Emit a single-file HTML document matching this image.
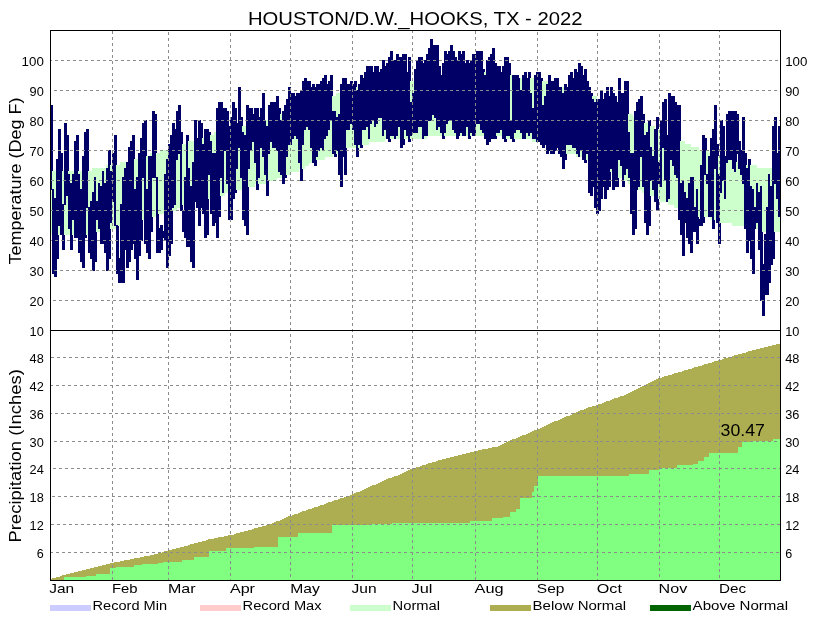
<!DOCTYPE html>
<html><head><meta charset="utf-8"><title>HOUSTON/D.W._HOOKS, TX - 2022</title>
<style>html,body{margin:0;padding:0;background:#fff;}svg{display:block;will-change:transform;}text{font-family:"Liberation Sans", sans-serif;fill:#000;}</style>
</head><body>
<svg width="830" height="620" viewBox="0 0 830 620">
<rect x="0" y="0" width="830" height="620" fill="#fff"/>
<g shape-rendering="crispEdges">
<rect x="50" y="171" width="3" height="64" fill="#ccffcc"/>
<rect x="50" y="105" width="3" height="85" fill="#000066"/>
<rect x="52" y="171" width="3" height="64" fill="#ccffcc"/>
<rect x="52" y="189" width="3" height="85" fill="#000066"/>
<rect x="54" y="171" width="3" height="64" fill="#ccffcc"/>
<rect x="54" y="198" width="3" height="79" fill="#000066"/>
<rect x="56" y="171" width="3" height="64" fill="#ccffcc"/>
<rect x="56" y="159" width="3" height="100" fill="#000066"/>
<rect x="58" y="171" width="3" height="64" fill="#ccffcc"/>
<rect x="58" y="129" width="3" height="97" fill="#000066"/>
<rect x="60" y="171" width="3" height="64" fill="#ccffcc"/>
<rect x="60" y="153" width="3" height="82" fill="#000066"/>
<rect x="62" y="171" width="3" height="64" fill="#ccffcc"/>
<rect x="62" y="204" width="3" height="46" fill="#000066"/>
<rect x="64" y="171" width="3" height="64" fill="#ccffcc"/>
<rect x="64" y="123" width="3" height="82" fill="#000066"/>
<rect x="66" y="171" width="3" height="64" fill="#ccffcc"/>
<rect x="66" y="135" width="3" height="61" fill="#000066"/>
<rect x="68" y="171" width="3" height="64" fill="#ccffcc"/>
<rect x="68" y="174" width="3" height="55" fill="#000066"/>
<rect x="70" y="171" width="3" height="64" fill="#ccffcc"/>
<rect x="70" y="183" width="3" height="67" fill="#000066"/>
<rect x="72" y="171" width="3" height="64" fill="#ccffcc"/>
<rect x="72" y="174" width="3" height="46" fill="#000066"/>
<rect x="74" y="171" width="3" height="64" fill="#ccffcc"/>
<rect x="74" y="141" width="3" height="97" fill="#000066"/>
<rect x="76" y="171" width="3" height="64" fill="#ccffcc"/>
<rect x="76" y="135" width="3" height="103" fill="#000066"/>
<rect x="78" y="171" width="3" height="64" fill="#ccffcc"/>
<rect x="78" y="174" width="3" height="79" fill="#000066"/>
<rect x="80" y="171" width="3" height="64" fill="#ccffcc"/>
<rect x="80" y="189" width="3" height="73" fill="#000066"/>
<rect x="82" y="171" width="3" height="64" fill="#ccffcc"/>
<rect x="82" y="156" width="3" height="112" fill="#000066"/>
<rect x="84" y="171" width="3" height="64" fill="#ccffcc"/>
<rect x="84" y="132" width="3" height="106" fill="#000066"/>
<rect x="86" y="171" width="3" height="64" fill="#ccffcc"/>
<rect x="86" y="129" width="3" height="79" fill="#000066"/>
<rect x="88" y="171" width="3" height="64" fill="#ccffcc"/>
<rect x="88" y="207" width="3" height="46" fill="#000066"/>
<rect x="90" y="171" width="3" height="64" fill="#ccffcc"/>
<rect x="90" y="201" width="3" height="58" fill="#000066"/>
<rect x="92" y="168" width="3" height="67" fill="#ccffcc"/>
<rect x="92" y="192" width="3" height="79" fill="#000066"/>
<rect x="94" y="168" width="3" height="67" fill="#ccffcc"/>
<rect x="94" y="177" width="3" height="85" fill="#000066"/>
<rect x="96" y="168" width="3" height="64" fill="#ccffcc"/>
<rect x="96" y="201" width="3" height="19" fill="#000066"/>
<rect x="98" y="168" width="3" height="64" fill="#ccffcc"/>
<rect x="98" y="183" width="3" height="46" fill="#000066"/>
<rect x="100" y="168" width="3" height="64" fill="#ccffcc"/>
<rect x="100" y="186" width="3" height="58" fill="#000066"/>
<rect x="102" y="168" width="3" height="64" fill="#ccffcc"/>
<rect x="102" y="171" width="3" height="73" fill="#000066"/>
<rect x="104" y="168" width="3" height="64" fill="#ccffcc"/>
<rect x="104" y="183" width="3" height="70" fill="#000066"/>
<rect x="106" y="165" width="3" height="64" fill="#ccffcc"/>
<rect x="106" y="168" width="3" height="103" fill="#000066"/>
<rect x="108" y="165" width="3" height="64" fill="#ccffcc"/>
<rect x="108" y="150" width="3" height="109" fill="#000066"/>
<rect x="110" y="165" width="3" height="64" fill="#ccffcc"/>
<rect x="110" y="171" width="3" height="52" fill="#000066"/>
<rect x="112" y="165" width="3" height="64" fill="#ccffcc"/>
<rect x="112" y="153" width="3" height="49" fill="#000066"/>
<rect x="114" y="165" width="3" height="64" fill="#ccffcc"/>
<rect x="114" y="135" width="3" height="91" fill="#000066"/>
<rect x="116" y="165" width="3" height="64" fill="#ccffcc"/>
<rect x="116" y="225" width="3" height="49" fill="#000066"/>
<rect x="118" y="165" width="3" height="61" fill="#ccffcc"/>
<rect x="118" y="258" width="3" height="25" fill="#000066"/>
<rect x="120" y="162" width="3" height="64" fill="#ccffcc"/>
<rect x="120" y="204" width="3" height="79" fill="#000066"/>
<rect x="122" y="162" width="3" height="64" fill="#ccffcc"/>
<rect x="122" y="177" width="3" height="106" fill="#000066"/>
<rect x="124" y="162" width="3" height="64" fill="#ccffcc"/>
<rect x="124" y="168" width="3" height="82" fill="#000066"/>
<rect x="126" y="162" width="3" height="64" fill="#ccffcc"/>
<rect x="126" y="162" width="3" height="106" fill="#000066"/>
<rect x="128" y="162" width="3" height="64" fill="#ccffcc"/>
<rect x="128" y="147" width="3" height="115" fill="#000066"/>
<rect x="130" y="162" width="3" height="64" fill="#ccffcc"/>
<rect x="130" y="141" width="3" height="109" fill="#000066"/>
<rect x="132" y="162" width="3" height="64" fill="#ccffcc"/>
<rect x="132" y="135" width="3" height="109" fill="#000066"/>
<rect x="134" y="159" width="3" height="64" fill="#ccffcc"/>
<rect x="134" y="189" width="3" height="70" fill="#000066"/>
<rect x="136" y="159" width="3" height="64" fill="#ccffcc"/>
<rect x="136" y="177" width="3" height="103" fill="#000066"/>
<rect x="138" y="159" width="3" height="64" fill="#ccffcc"/>
<rect x="138" y="153" width="3" height="103" fill="#000066"/>
<rect x="140" y="159" width="3" height="61" fill="#ccffcc"/>
<rect x="140" y="138" width="3" height="103" fill="#000066"/>
<rect x="142" y="156" width="3" height="64" fill="#ccffcc"/>
<rect x="142" y="123" width="3" height="55" fill="#000066"/>
<rect x="144" y="156" width="3" height="64" fill="#ccffcc"/>
<rect x="144" y="120" width="3" height="124" fill="#000066"/>
<rect x="146" y="156" width="3" height="64" fill="#ccffcc"/>
<rect x="146" y="189" width="3" height="64" fill="#000066"/>
<rect x="148" y="156" width="3" height="61" fill="#ccffcc"/>
<rect x="148" y="156" width="3" height="103" fill="#000066"/>
<rect x="150" y="153" width="3" height="64" fill="#ccffcc"/>
<rect x="150" y="156" width="3" height="76" fill="#000066"/>
<rect x="152" y="153" width="3" height="64" fill="#ccffcc"/>
<rect x="152" y="111" width="3" height="67" fill="#000066"/>
<rect x="154" y="153" width="3" height="64" fill="#ccffcc"/>
<rect x="154" y="114" width="3" height="64" fill="#000066"/>
<rect x="156" y="153" width="3" height="64" fill="#ccffcc"/>
<rect x="156" y="177" width="3" height="76" fill="#000066"/>
<rect x="158" y="153" width="3" height="61" fill="#ccffcc"/>
<rect x="158" y="228" width="3" height="25" fill="#000066"/>
<rect x="160" y="150" width="3" height="64" fill="#ccffcc"/>
<rect x="160" y="225" width="3" height="25" fill="#000066"/>
<rect x="162" y="150" width="3" height="64" fill="#ccffcc"/>
<rect x="162" y="231" width="3" height="7" fill="#000066"/>
<rect x="164" y="150" width="3" height="64" fill="#ccffcc"/>
<rect x="164" y="174" width="3" height="67" fill="#000066"/>
<rect x="166" y="150" width="3" height="61" fill="#ccffcc"/>
<rect x="166" y="159" width="3" height="109" fill="#000066"/>
<rect x="168" y="150" width="3" height="61" fill="#ccffcc"/>
<rect x="168" y="144" width="3" height="112" fill="#000066"/>
<rect x="170" y="150" width="3" height="61" fill="#ccffcc"/>
<rect x="170" y="135" width="3" height="109" fill="#000066"/>
<rect x="172" y="150" width="3" height="61" fill="#ccffcc"/>
<rect x="172" y="123" width="3" height="85" fill="#000066"/>
<rect x="174" y="150" width="3" height="61" fill="#ccffcc"/>
<rect x="174" y="129" width="3" height="76" fill="#000066"/>
<rect x="176" y="147" width="3" height="61" fill="#ccffcc"/>
<rect x="176" y="111" width="3" height="49" fill="#000066"/>
<rect x="178" y="147" width="3" height="61" fill="#ccffcc"/>
<rect x="178" y="105" width="3" height="49" fill="#000066"/>
<rect x="180" y="147" width="3" height="61" fill="#ccffcc"/>
<rect x="180" y="132" width="3" height="79" fill="#000066"/>
<rect x="182" y="144" width="3" height="61" fill="#ccffcc"/>
<rect x="182" y="210" width="3" height="22" fill="#000066"/>
<rect x="184" y="144" width="3" height="61" fill="#ccffcc"/>
<rect x="184" y="177" width="3" height="61" fill="#000066"/>
<rect x="186" y="144" width="3" height="61" fill="#ccffcc"/>
<rect x="186" y="135" width="3" height="112" fill="#000066"/>
<rect x="188" y="141" width="3" height="64" fill="#ccffcc"/>
<rect x="188" y="168" width="3" height="79" fill="#000066"/>
<rect x="190" y="141" width="3" height="64" fill="#ccffcc"/>
<rect x="190" y="186" width="3" height="76" fill="#000066"/>
<rect x="192" y="141" width="3" height="61" fill="#ccffcc"/>
<rect x="192" y="162" width="3" height="106" fill="#000066"/>
<rect x="194" y="141" width="3" height="61" fill="#ccffcc"/>
<rect x="194" y="120" width="3" height="82" fill="#000066"/>
<rect x="196" y="138" width="3" height="64" fill="#ccffcc"/>
<rect x="196" y="138" width="3" height="70" fill="#000066"/>
<rect x="198" y="138" width="3" height="64" fill="#ccffcc"/>
<rect x="198" y="120" width="3" height="106" fill="#000066"/>
<rect x="200" y="138" width="3" height="64" fill="#ccffcc"/>
<rect x="200" y="123" width="3" height="85" fill="#000066"/>
<rect x="202" y="138" width="3" height="61" fill="#ccffcc"/>
<rect x="202" y="144" width="3" height="70" fill="#000066"/>
<rect x="204" y="138" width="3" height="61" fill="#ccffcc"/>
<rect x="204" y="129" width="3" height="109" fill="#000066"/>
<rect x="206" y="138" width="3" height="61" fill="#ccffcc"/>
<rect x="206" y="129" width="3" height="106" fill="#000066"/>
<rect x="208" y="135" width="3" height="64" fill="#ccffcc"/>
<rect x="208" y="132" width="3" height="43" fill="#000066"/>
<rect x="210" y="135" width="3" height="64" fill="#ccffcc"/>
<rect x="210" y="141" width="3" height="73" fill="#000066"/>
<rect x="212" y="135" width="3" height="64" fill="#ccffcc"/>
<rect x="212" y="153" width="3" height="73" fill="#000066"/>
<rect x="214" y="132" width="3" height="67" fill="#ccffcc"/>
<rect x="214" y="153" width="3" height="70" fill="#000066"/>
<rect x="216" y="132" width="3" height="64" fill="#ccffcc"/>
<rect x="216" y="108" width="3" height="130" fill="#000066"/>
<rect x="218" y="132" width="3" height="64" fill="#ccffcc"/>
<rect x="218" y="102" width="3" height="115" fill="#000066"/>
<rect x="220" y="132" width="3" height="64" fill="#ccffcc"/>
<rect x="220" y="102" width="3" height="76" fill="#000066"/>
<rect x="222" y="129" width="3" height="67" fill="#ccffcc"/>
<rect x="222" y="108" width="3" height="85" fill="#000066"/>
<rect x="224" y="129" width="3" height="64" fill="#ccffcc"/>
<rect x="224" y="108" width="3" height="43" fill="#000066"/>
<rect x="226" y="129" width="3" height="64" fill="#ccffcc"/>
<rect x="226" y="111" width="3" height="73" fill="#000066"/>
<rect x="228" y="129" width="3" height="64" fill="#ccffcc"/>
<rect x="228" y="126" width="3" height="94" fill="#000066"/>
<rect x="230" y="129" width="3" height="64" fill="#ccffcc"/>
<rect x="230" y="117" width="3" height="103" fill="#000066"/>
<rect x="232" y="129" width="3" height="64" fill="#ccffcc"/>
<rect x="232" y="102" width="3" height="97" fill="#000066"/>
<rect x="234" y="129" width="3" height="61" fill="#ccffcc"/>
<rect x="234" y="108" width="3" height="85" fill="#000066"/>
<rect x="236" y="126" width="3" height="64" fill="#ccffcc"/>
<rect x="236" y="123" width="3" height="46" fill="#000066"/>
<rect x="238" y="126" width="3" height="64" fill="#ccffcc"/>
<rect x="238" y="87" width="3" height="61" fill="#000066"/>
<rect x="240" y="126" width="3" height="64" fill="#ccffcc"/>
<rect x="240" y="117" width="3" height="61" fill="#000066"/>
<rect x="242" y="126" width="3" height="61" fill="#ccffcc"/>
<rect x="242" y="132" width="3" height="88" fill="#000066"/>
<rect x="244" y="126" width="3" height="61" fill="#ccffcc"/>
<rect x="244" y="135" width="3" height="91" fill="#000066"/>
<rect x="246" y="126" width="3" height="61" fill="#ccffcc"/>
<rect x="246" y="105" width="3" height="130" fill="#000066"/>
<rect x="248" y="123" width="3" height="64" fill="#ccffcc"/>
<rect x="248" y="108" width="3" height="61" fill="#000066"/>
<rect x="250" y="123" width="3" height="64" fill="#ccffcc"/>
<rect x="250" y="108" width="3" height="43" fill="#000066"/>
<rect x="252" y="123" width="3" height="64" fill="#ccffcc"/>
<rect x="252" y="114" width="3" height="28" fill="#000066"/>
<rect x="254" y="123" width="3" height="61" fill="#ccffcc"/>
<rect x="254" y="108" width="3" height="55" fill="#000066"/>
<rect x="256" y="123" width="3" height="61" fill="#ccffcc"/>
<rect x="256" y="108" width="3" height="82" fill="#000066"/>
<rect x="258" y="123" width="3" height="61" fill="#ccffcc"/>
<rect x="258" y="117" width="3" height="61" fill="#000066"/>
<rect x="260" y="120" width="3" height="64" fill="#ccffcc"/>
<rect x="260" y="108" width="3" height="40" fill="#000066"/>
<rect x="262" y="120" width="3" height="64" fill="#ccffcc"/>
<rect x="262" y="93" width="3" height="64" fill="#000066"/>
<rect x="264" y="120" width="3" height="64" fill="#ccffcc"/>
<rect x="264" y="120" width="3" height="55" fill="#000066"/>
<rect x="266" y="120" width="3" height="61" fill="#ccffcc"/>
<rect x="266" y="126" width="3" height="70" fill="#000066"/>
<rect x="268" y="120" width="3" height="61" fill="#ccffcc"/>
<rect x="268" y="105" width="3" height="49" fill="#000066"/>
<rect x="270" y="117" width="3" height="64" fill="#ccffcc"/>
<rect x="270" y="102" width="3" height="40" fill="#000066"/>
<rect x="272" y="117" width="3" height="64" fill="#ccffcc"/>
<rect x="272" y="102" width="3" height="46" fill="#000066"/>
<rect x="274" y="117" width="3" height="64" fill="#ccffcc"/>
<rect x="274" y="102" width="3" height="46" fill="#000066"/>
<rect x="276" y="114" width="3" height="64" fill="#ccffcc"/>
<rect x="276" y="96" width="3" height="55" fill="#000066"/>
<rect x="278" y="114" width="3" height="64" fill="#ccffcc"/>
<rect x="278" y="108" width="3" height="64" fill="#000066"/>
<rect x="280" y="114" width="3" height="64" fill="#ccffcc"/>
<rect x="280" y="120" width="3" height="55" fill="#000066"/>
<rect x="282" y="114" width="3" height="61" fill="#ccffcc"/>
<rect x="282" y="111" width="3" height="73" fill="#000066"/>
<rect x="284" y="114" width="3" height="61" fill="#ccffcc"/>
<rect x="284" y="105" width="3" height="73" fill="#000066"/>
<rect x="286" y="111" width="3" height="64" fill="#ccffcc"/>
<rect x="286" y="99" width="3" height="58" fill="#000066"/>
<rect x="288" y="111" width="3" height="64" fill="#ccffcc"/>
<rect x="288" y="87" width="3" height="58" fill="#000066"/>
<rect x="290" y="111" width="3" height="61" fill="#ccffcc"/>
<rect x="290" y="93" width="3" height="52" fill="#000066"/>
<rect x="292" y="111" width="3" height="61" fill="#ccffcc"/>
<rect x="292" y="93" width="3" height="46" fill="#000066"/>
<rect x="294" y="108" width="3" height="64" fill="#ccffcc"/>
<rect x="294" y="96" width="3" height="40" fill="#000066"/>
<rect x="296" y="108" width="3" height="64" fill="#ccffcc"/>
<rect x="296" y="93" width="3" height="46" fill="#000066"/>
<rect x="298" y="108" width="3" height="61" fill="#ccffcc"/>
<rect x="298" y="93" width="3" height="70" fill="#000066"/>
<rect x="300" y="108" width="3" height="61" fill="#ccffcc"/>
<rect x="300" y="90" width="3" height="91" fill="#000066"/>
<rect x="302" y="105" width="3" height="64" fill="#ccffcc"/>
<rect x="302" y="81" width="3" height="64" fill="#000066"/>
<rect x="304" y="105" width="3" height="61" fill="#ccffcc"/>
<rect x="304" y="78" width="3" height="52" fill="#000066"/>
<rect x="306" y="105" width="3" height="61" fill="#ccffcc"/>
<rect x="306" y="81" width="3" height="46" fill="#000066"/>
<rect x="308" y="105" width="3" height="58" fill="#ccffcc"/>
<rect x="308" y="81" width="3" height="49" fill="#000066"/>
<rect x="310" y="105" width="3" height="58" fill="#ccffcc"/>
<rect x="310" y="87" width="3" height="61" fill="#000066"/>
<rect x="312" y="102" width="3" height="61" fill="#ccffcc"/>
<rect x="312" y="84" width="3" height="79" fill="#000066"/>
<rect x="314" y="102" width="3" height="61" fill="#ccffcc"/>
<rect x="314" y="87" width="3" height="79" fill="#000066"/>
<rect x="316" y="102" width="3" height="58" fill="#ccffcc"/>
<rect x="316" y="84" width="3" height="73" fill="#000066"/>
<rect x="318" y="102" width="3" height="58" fill="#ccffcc"/>
<rect x="318" y="84" width="3" height="67" fill="#000066"/>
<rect x="320" y="99" width="3" height="61" fill="#ccffcc"/>
<rect x="320" y="81" width="3" height="67" fill="#000066"/>
<rect x="322" y="99" width="3" height="61" fill="#ccffcc"/>
<rect x="322" y="78" width="3" height="73" fill="#000066"/>
<rect x="324" y="99" width="3" height="58" fill="#ccffcc"/>
<rect x="324" y="75" width="3" height="64" fill="#000066"/>
<rect x="326" y="99" width="3" height="58" fill="#ccffcc"/>
<rect x="326" y="84" width="3" height="52" fill="#000066"/>
<rect x="328" y="96" width="3" height="61" fill="#ccffcc"/>
<rect x="328" y="81" width="3" height="49" fill="#000066"/>
<rect x="330" y="96" width="3" height="61" fill="#ccffcc"/>
<rect x="330" y="75" width="3" height="46" fill="#000066"/>
<rect x="332" y="96" width="3" height="58" fill="#ccffcc"/>
<rect x="332" y="111" width="3" height="43" fill="#000066"/>
<rect x="334" y="96" width="3" height="58" fill="#ccffcc"/>
<rect x="334" y="111" width="3" height="46" fill="#000066"/>
<rect x="336" y="93" width="3" height="61" fill="#ccffcc"/>
<rect x="336" y="117" width="3" height="34" fill="#000066"/>
<rect x="338" y="93" width="3" height="61" fill="#ccffcc"/>
<rect x="338" y="114" width="3" height="61" fill="#000066"/>
<rect x="340" y="93" width="3" height="58" fill="#ccffcc"/>
<rect x="340" y="84" width="3" height="103" fill="#000066"/>
<rect x="342" y="90" width="3" height="61" fill="#ccffcc"/>
<rect x="342" y="78" width="3" height="79" fill="#000066"/>
<rect x="344" y="90" width="3" height="61" fill="#ccffcc"/>
<rect x="344" y="78" width="3" height="97" fill="#000066"/>
<rect x="346" y="90" width="3" height="58" fill="#ccffcc"/>
<rect x="346" y="84" width="3" height="46" fill="#000066"/>
<rect x="348" y="90" width="3" height="58" fill="#ccffcc"/>
<rect x="348" y="84" width="3" height="46" fill="#000066"/>
<rect x="350" y="90" width="3" height="58" fill="#ccffcc"/>
<rect x="350" y="81" width="3" height="43" fill="#000066"/>
<rect x="352" y="87" width="3" height="61" fill="#ccffcc"/>
<rect x="352" y="84" width="3" height="46" fill="#000066"/>
<rect x="354" y="87" width="3" height="61" fill="#ccffcc"/>
<rect x="354" y="81" width="3" height="64" fill="#000066"/>
<rect x="356" y="87" width="3" height="61" fill="#ccffcc"/>
<rect x="356" y="90" width="3" height="67" fill="#000066"/>
<rect x="358" y="87" width="3" height="61" fill="#ccffcc"/>
<rect x="358" y="84" width="3" height="61" fill="#000066"/>
<rect x="360" y="87" width="3" height="61" fill="#ccffcc"/>
<rect x="360" y="75" width="3" height="73" fill="#000066"/>
<rect x="362" y="87" width="3" height="58" fill="#ccffcc"/>
<rect x="362" y="78" width="3" height="52" fill="#000066"/>
<rect x="364" y="87" width="3" height="58" fill="#ccffcc"/>
<rect x="364" y="72" width="3" height="58" fill="#000066"/>
<rect x="366" y="87" width="3" height="58" fill="#ccffcc"/>
<rect x="366" y="66" width="3" height="61" fill="#000066"/>
<rect x="368" y="84" width="3" height="58" fill="#ccffcc"/>
<rect x="368" y="66" width="3" height="73" fill="#000066"/>
<rect x="370" y="84" width="3" height="58" fill="#ccffcc"/>
<rect x="370" y="66" width="3" height="58" fill="#000066"/>
<rect x="372" y="84" width="3" height="58" fill="#ccffcc"/>
<rect x="372" y="72" width="3" height="49" fill="#000066"/>
<rect x="374" y="84" width="3" height="58" fill="#ccffcc"/>
<rect x="374" y="66" width="3" height="61" fill="#000066"/>
<rect x="376" y="84" width="3" height="58" fill="#ccffcc"/>
<rect x="376" y="66" width="3" height="58" fill="#000066"/>
<rect x="378" y="84" width="3" height="58" fill="#ccffcc"/>
<rect x="378" y="72" width="3" height="46" fill="#000066"/>
<rect x="380" y="84" width="3" height="58" fill="#ccffcc"/>
<rect x="380" y="69" width="3" height="49" fill="#000066"/>
<rect x="382" y="84" width="3" height="58" fill="#ccffcc"/>
<rect x="382" y="60" width="3" height="76" fill="#000066"/>
<rect x="384" y="84" width="3" height="55" fill="#ccffcc"/>
<rect x="384" y="66" width="3" height="64" fill="#000066"/>
<rect x="386" y="84" width="3" height="55" fill="#ccffcc"/>
<rect x="386" y="63" width="3" height="76" fill="#000066"/>
<rect x="388" y="84" width="3" height="55" fill="#ccffcc"/>
<rect x="388" y="57" width="3" height="85" fill="#000066"/>
<rect x="390" y="84" width="3" height="55" fill="#ccffcc"/>
<rect x="390" y="51" width="3" height="85" fill="#000066"/>
<rect x="392" y="84" width="3" height="55" fill="#ccffcc"/>
<rect x="392" y="60" width="3" height="76" fill="#000066"/>
<rect x="394" y="84" width="3" height="55" fill="#ccffcc"/>
<rect x="394" y="60" width="3" height="79" fill="#000066"/>
<rect x="396" y="81" width="3" height="58" fill="#ccffcc"/>
<rect x="396" y="54" width="3" height="82" fill="#000066"/>
<rect x="398" y="81" width="3" height="58" fill="#ccffcc"/>
<rect x="398" y="57" width="3" height="70" fill="#000066"/>
<rect x="400" y="81" width="3" height="58" fill="#ccffcc"/>
<rect x="400" y="57" width="3" height="91" fill="#000066"/>
<rect x="402" y="81" width="3" height="58" fill="#ccffcc"/>
<rect x="402" y="54" width="3" height="91" fill="#000066"/>
<rect x="404" y="81" width="3" height="58" fill="#ccffcc"/>
<rect x="404" y="54" width="3" height="76" fill="#000066"/>
<rect x="406" y="81" width="3" height="58" fill="#ccffcc"/>
<rect x="406" y="72" width="3" height="64" fill="#000066"/>
<rect x="408" y="81" width="3" height="58" fill="#ccffcc"/>
<rect x="408" y="57" width="3" height="85" fill="#000066"/>
<rect x="410" y="81" width="3" height="58" fill="#ccffcc"/>
<rect x="410" y="102" width="3" height="34" fill="#000066"/>
<rect x="412" y="81" width="3" height="58" fill="#ccffcc"/>
<rect x="412" y="93" width="3" height="40" fill="#000066"/>
<rect x="414" y="81" width="3" height="58" fill="#ccffcc"/>
<rect x="414" y="69" width="3" height="64" fill="#000066"/>
<rect x="416" y="81" width="3" height="58" fill="#ccffcc"/>
<rect x="416" y="60" width="3" height="73" fill="#000066"/>
<rect x="418" y="81" width="3" height="58" fill="#ccffcc"/>
<rect x="418" y="57" width="3" height="70" fill="#000066"/>
<rect x="420" y="81" width="3" height="58" fill="#ccffcc"/>
<rect x="420" y="57" width="3" height="70" fill="#000066"/>
<rect x="422" y="81" width="3" height="58" fill="#ccffcc"/>
<rect x="422" y="63" width="3" height="76" fill="#000066"/>
<rect x="424" y="78" width="3" height="61" fill="#ccffcc"/>
<rect x="424" y="60" width="3" height="76" fill="#000066"/>
<rect x="426" y="78" width="3" height="58" fill="#ccffcc"/>
<rect x="426" y="54" width="3" height="82" fill="#000066"/>
<rect x="428" y="78" width="3" height="58" fill="#ccffcc"/>
<rect x="428" y="48" width="3" height="73" fill="#000066"/>
<rect x="430" y="78" width="3" height="58" fill="#ccffcc"/>
<rect x="430" y="39" width="3" height="82" fill="#000066"/>
<rect x="432" y="78" width="3" height="58" fill="#ccffcc"/>
<rect x="432" y="45" width="3" height="70" fill="#000066"/>
<rect x="434" y="78" width="3" height="58" fill="#ccffcc"/>
<rect x="434" y="45" width="3" height="73" fill="#000066"/>
<rect x="436" y="78" width="3" height="58" fill="#ccffcc"/>
<rect x="436" y="45" width="3" height="85" fill="#000066"/>
<rect x="438" y="78" width="3" height="58" fill="#ccffcc"/>
<rect x="438" y="66" width="3" height="61" fill="#000066"/>
<rect x="440" y="78" width="3" height="58" fill="#ccffcc"/>
<rect x="440" y="75" width="3" height="58" fill="#000066"/>
<rect x="442" y="78" width="3" height="58" fill="#ccffcc"/>
<rect x="442" y="63" width="3" height="76" fill="#000066"/>
<rect x="444" y="78" width="3" height="58" fill="#ccffcc"/>
<rect x="444" y="51" width="3" height="82" fill="#000066"/>
<rect x="446" y="78" width="3" height="58" fill="#ccffcc"/>
<rect x="446" y="54" width="3" height="70" fill="#000066"/>
<rect x="448" y="78" width="3" height="58" fill="#ccffcc"/>
<rect x="448" y="51" width="3" height="70" fill="#000066"/>
<rect x="450" y="78" width="3" height="58" fill="#ccffcc"/>
<rect x="450" y="45" width="3" height="76" fill="#000066"/>
<rect x="452" y="75" width="3" height="61" fill="#ccffcc"/>
<rect x="452" y="51" width="3" height="79" fill="#000066"/>
<rect x="454" y="75" width="3" height="61" fill="#ccffcc"/>
<rect x="454" y="57" width="3" height="76" fill="#000066"/>
<rect x="456" y="75" width="3" height="61" fill="#ccffcc"/>
<rect x="456" y="60" width="3" height="79" fill="#000066"/>
<rect x="458" y="75" width="3" height="61" fill="#ccffcc"/>
<rect x="458" y="51" width="3" height="85" fill="#000066"/>
<rect x="460" y="75" width="3" height="61" fill="#ccffcc"/>
<rect x="460" y="54" width="3" height="79" fill="#000066"/>
<rect x="462" y="75" width="3" height="61" fill="#ccffcc"/>
<rect x="462" y="51" width="3" height="85" fill="#000066"/>
<rect x="464" y="75" width="3" height="61" fill="#ccffcc"/>
<rect x="464" y="63" width="3" height="73" fill="#000066"/>
<rect x="466" y="72" width="3" height="64" fill="#ccffcc"/>
<rect x="466" y="60" width="3" height="67" fill="#000066"/>
<rect x="468" y="72" width="3" height="64" fill="#ccffcc"/>
<rect x="468" y="63" width="3" height="76" fill="#000066"/>
<rect x="470" y="72" width="3" height="64" fill="#ccffcc"/>
<rect x="470" y="60" width="3" height="73" fill="#000066"/>
<rect x="472" y="72" width="3" height="64" fill="#ccffcc"/>
<rect x="472" y="54" width="3" height="82" fill="#000066"/>
<rect x="474" y="72" width="3" height="64" fill="#ccffcc"/>
<rect x="474" y="54" width="3" height="82" fill="#000066"/>
<rect x="476" y="72" width="3" height="64" fill="#ccffcc"/>
<rect x="476" y="51" width="3" height="73" fill="#000066"/>
<rect x="478" y="72" width="3" height="64" fill="#ccffcc"/>
<rect x="478" y="51" width="3" height="73" fill="#000066"/>
<rect x="480" y="72" width="3" height="64" fill="#ccffcc"/>
<rect x="480" y="51" width="3" height="79" fill="#000066"/>
<rect x="482" y="72" width="3" height="64" fill="#ccffcc"/>
<rect x="482" y="69" width="3" height="64" fill="#000066"/>
<rect x="484" y="72" width="3" height="64" fill="#ccffcc"/>
<rect x="484" y="75" width="3" height="64" fill="#000066"/>
<rect x="486" y="72" width="3" height="64" fill="#ccffcc"/>
<rect x="486" y="60" width="3" height="85" fill="#000066"/>
<rect x="488" y="72" width="3" height="64" fill="#ccffcc"/>
<rect x="488" y="57" width="3" height="85" fill="#000066"/>
<rect x="490" y="72" width="3" height="64" fill="#ccffcc"/>
<rect x="490" y="54" width="3" height="85" fill="#000066"/>
<rect x="492" y="72" width="3" height="64" fill="#ccffcc"/>
<rect x="492" y="48" width="3" height="91" fill="#000066"/>
<rect x="494" y="72" width="3" height="64" fill="#ccffcc"/>
<rect x="494" y="63" width="3" height="76" fill="#000066"/>
<rect x="496" y="72" width="3" height="64" fill="#ccffcc"/>
<rect x="496" y="66" width="3" height="67" fill="#000066"/>
<rect x="498" y="72" width="3" height="64" fill="#ccffcc"/>
<rect x="498" y="66" width="3" height="67" fill="#000066"/>
<rect x="500" y="72" width="3" height="64" fill="#ccffcc"/>
<rect x="500" y="72" width="3" height="58" fill="#000066"/>
<rect x="502" y="72" width="3" height="67" fill="#ccffcc"/>
<rect x="502" y="66" width="3" height="73" fill="#000066"/>
<rect x="504" y="75" width="3" height="64" fill="#ccffcc"/>
<rect x="504" y="57" width="3" height="85" fill="#000066"/>
<rect x="506" y="75" width="3" height="64" fill="#ccffcc"/>
<rect x="506" y="57" width="3" height="79" fill="#000066"/>
<rect x="508" y="75" width="3" height="64" fill="#ccffcc"/>
<rect x="508" y="63" width="3" height="73" fill="#000066"/>
<rect x="510" y="75" width="3" height="64" fill="#ccffcc"/>
<rect x="510" y="120" width="3" height="19" fill="#000066"/>
<rect x="512" y="75" width="3" height="64" fill="#ccffcc"/>
<rect x="512" y="75" width="3" height="67" fill="#000066"/>
<rect x="514" y="75" width="3" height="64" fill="#ccffcc"/>
<rect x="514" y="75" width="3" height="58" fill="#000066"/>
<rect x="516" y="78" width="3" height="61" fill="#ccffcc"/>
<rect x="516" y="75" width="3" height="55" fill="#000066"/>
<rect x="518" y="78" width="3" height="61" fill="#ccffcc"/>
<rect x="518" y="78" width="3" height="52" fill="#000066"/>
<rect x="520" y="78" width="3" height="61" fill="#ccffcc"/>
<rect x="520" y="90" width="3" height="43" fill="#000066"/>
<rect x="522" y="78" width="3" height="61" fill="#ccffcc"/>
<rect x="522" y="75" width="3" height="64" fill="#000066"/>
<rect x="524" y="78" width="3" height="61" fill="#ccffcc"/>
<rect x="524" y="72" width="3" height="67" fill="#000066"/>
<rect x="526" y="78" width="3" height="61" fill="#ccffcc"/>
<rect x="526" y="78" width="3" height="55" fill="#000066"/>
<rect x="528" y="78" width="3" height="61" fill="#ccffcc"/>
<rect x="528" y="72" width="3" height="64" fill="#000066"/>
<rect x="530" y="78" width="3" height="61" fill="#ccffcc"/>
<rect x="530" y="93" width="3" height="40" fill="#000066"/>
<rect x="532" y="78" width="3" height="64" fill="#ccffcc"/>
<rect x="532" y="108" width="3" height="31" fill="#000066"/>
<rect x="534" y="78" width="3" height="64" fill="#ccffcc"/>
<rect x="534" y="75" width="3" height="64" fill="#000066"/>
<rect x="536" y="78" width="3" height="64" fill="#ccffcc"/>
<rect x="536" y="72" width="3" height="70" fill="#000066"/>
<rect x="538" y="81" width="3" height="61" fill="#ccffcc"/>
<rect x="538" y="72" width="3" height="70" fill="#000066"/>
<rect x="540" y="81" width="3" height="64" fill="#ccffcc"/>
<rect x="540" y="78" width="3" height="67" fill="#000066"/>
<rect x="542" y="81" width="3" height="64" fill="#ccffcc"/>
<rect x="542" y="105" width="3" height="43" fill="#000066"/>
<rect x="544" y="81" width="3" height="64" fill="#ccffcc"/>
<rect x="544" y="96" width="3" height="49" fill="#000066"/>
<rect x="546" y="81" width="3" height="64" fill="#ccffcc"/>
<rect x="546" y="84" width="3" height="70" fill="#000066"/>
<rect x="548" y="84" width="3" height="61" fill="#ccffcc"/>
<rect x="548" y="75" width="3" height="76" fill="#000066"/>
<rect x="550" y="84" width="3" height="61" fill="#ccffcc"/>
<rect x="550" y="81" width="3" height="73" fill="#000066"/>
<rect x="552" y="84" width="3" height="61" fill="#ccffcc"/>
<rect x="552" y="81" width="3" height="73" fill="#000066"/>
<rect x="554" y="84" width="3" height="64" fill="#ccffcc"/>
<rect x="554" y="78" width="3" height="73" fill="#000066"/>
<rect x="556" y="84" width="3" height="64" fill="#ccffcc"/>
<rect x="556" y="78" width="3" height="70" fill="#000066"/>
<rect x="558" y="87" width="3" height="61" fill="#ccffcc"/>
<rect x="558" y="87" width="3" height="67" fill="#000066"/>
<rect x="560" y="87" width="3" height="61" fill="#ccffcc"/>
<rect x="560" y="87" width="3" height="70" fill="#000066"/>
<rect x="562" y="87" width="3" height="64" fill="#ccffcc"/>
<rect x="562" y="93" width="3" height="76" fill="#000066"/>
<rect x="564" y="87" width="3" height="64" fill="#ccffcc"/>
<rect x="564" y="84" width="3" height="76" fill="#000066"/>
<rect x="566" y="87" width="3" height="67" fill="#ccffcc"/>
<rect x="566" y="87" width="3" height="58" fill="#000066"/>
<rect x="568" y="90" width="3" height="64" fill="#ccffcc"/>
<rect x="568" y="75" width="3" height="70" fill="#000066"/>
<rect x="570" y="90" width="3" height="64" fill="#ccffcc"/>
<rect x="570" y="72" width="3" height="73" fill="#000066"/>
<rect x="572" y="90" width="3" height="64" fill="#ccffcc"/>
<rect x="572" y="78" width="3" height="70" fill="#000066"/>
<rect x="574" y="90" width="3" height="64" fill="#ccffcc"/>
<rect x="574" y="69" width="3" height="79" fill="#000066"/>
<rect x="576" y="90" width="3" height="67" fill="#ccffcc"/>
<rect x="576" y="72" width="3" height="82" fill="#000066"/>
<rect x="578" y="93" width="3" height="64" fill="#ccffcc"/>
<rect x="578" y="63" width="3" height="94" fill="#000066"/>
<rect x="580" y="93" width="3" height="64" fill="#ccffcc"/>
<rect x="580" y="66" width="3" height="85" fill="#000066"/>
<rect x="582" y="93" width="3" height="64" fill="#ccffcc"/>
<rect x="582" y="75" width="3" height="85" fill="#000066"/>
<rect x="584" y="93" width="3" height="64" fill="#ccffcc"/>
<rect x="584" y="69" width="3" height="94" fill="#000066"/>
<rect x="586" y="93" width="3" height="67" fill="#ccffcc"/>
<rect x="586" y="81" width="3" height="73" fill="#000066"/>
<rect x="588" y="96" width="3" height="64" fill="#ccffcc"/>
<rect x="588" y="87" width="3" height="106" fill="#000066"/>
<rect x="590" y="96" width="3" height="64" fill="#ccffcc"/>
<rect x="590" y="93" width="3" height="103" fill="#000066"/>
<rect x="592" y="96" width="3" height="67" fill="#ccffcc"/>
<rect x="592" y="99" width="3" height="88" fill="#000066"/>
<rect x="594" y="96" width="3" height="67" fill="#ccffcc"/>
<rect x="594" y="102" width="3" height="106" fill="#000066"/>
<rect x="596" y="99" width="3" height="64" fill="#ccffcc"/>
<rect x="596" y="99" width="3" height="115" fill="#000066"/>
<rect x="598" y="99" width="3" height="67" fill="#ccffcc"/>
<rect x="598" y="99" width="3" height="112" fill="#000066"/>
<rect x="600" y="99" width="3" height="67" fill="#ccffcc"/>
<rect x="600" y="90" width="3" height="109" fill="#000066"/>
<rect x="602" y="102" width="3" height="64" fill="#ccffcc"/>
<rect x="602" y="99" width="3" height="88" fill="#000066"/>
<rect x="604" y="102" width="3" height="67" fill="#ccffcc"/>
<rect x="604" y="93" width="3" height="106" fill="#000066"/>
<rect x="606" y="102" width="3" height="67" fill="#ccffcc"/>
<rect x="606" y="87" width="3" height="103" fill="#000066"/>
<rect x="608" y="105" width="3" height="67" fill="#ccffcc"/>
<rect x="608" y="96" width="3" height="91" fill="#000066"/>
<rect x="610" y="105" width="3" height="67" fill="#ccffcc"/>
<rect x="610" y="87" width="3" height="82" fill="#000066"/>
<rect x="612" y="105" width="3" height="67" fill="#ccffcc"/>
<rect x="612" y="93" width="3" height="97" fill="#000066"/>
<rect x="614" y="108" width="3" height="67" fill="#ccffcc"/>
<rect x="614" y="96" width="3" height="91" fill="#000066"/>
<rect x="616" y="108" width="3" height="67" fill="#ccffcc"/>
<rect x="616" y="102" width="3" height="85" fill="#000066"/>
<rect x="618" y="108" width="3" height="70" fill="#ccffcc"/>
<rect x="618" y="78" width="3" height="82" fill="#000066"/>
<rect x="620" y="111" width="3" height="67" fill="#ccffcc"/>
<rect x="620" y="93" width="3" height="73" fill="#000066"/>
<rect x="622" y="111" width="3" height="70" fill="#ccffcc"/>
<rect x="622" y="93" width="3" height="94" fill="#000066"/>
<rect x="624" y="111" width="3" height="70" fill="#ccffcc"/>
<rect x="624" y="81" width="3" height="94" fill="#000066"/>
<rect x="626" y="114" width="3" height="67" fill="#ccffcc"/>
<rect x="626" y="81" width="3" height="88" fill="#000066"/>
<rect x="628" y="114" width="3" height="70" fill="#ccffcc"/>
<rect x="628" y="132" width="3" height="46" fill="#000066"/>
<rect x="630" y="114" width="3" height="73" fill="#ccffcc"/>
<rect x="630" y="153" width="3" height="61" fill="#000066"/>
<rect x="632" y="117" width="3" height="70" fill="#ccffcc"/>
<rect x="632" y="153" width="3" height="82" fill="#000066"/>
<rect x="634" y="117" width="3" height="70" fill="#ccffcc"/>
<rect x="634" y="111" width="3" height="118" fill="#000066"/>
<rect x="636" y="120" width="3" height="70" fill="#ccffcc"/>
<rect x="636" y="102" width="3" height="88" fill="#000066"/>
<rect x="638" y="120" width="3" height="70" fill="#ccffcc"/>
<rect x="638" y="99" width="3" height="88" fill="#000066"/>
<rect x="640" y="120" width="3" height="70" fill="#ccffcc"/>
<rect x="640" y="96" width="3" height="61" fill="#000066"/>
<rect x="642" y="123" width="3" height="70" fill="#ccffcc"/>
<rect x="642" y="114" width="3" height="73" fill="#000066"/>
<rect x="644" y="123" width="3" height="70" fill="#ccffcc"/>
<rect x="644" y="135" width="3" height="88" fill="#000066"/>
<rect x="646" y="123" width="3" height="70" fill="#ccffcc"/>
<rect x="646" y="132" width="3" height="103" fill="#000066"/>
<rect x="648" y="126" width="3" height="70" fill="#ccffcc"/>
<rect x="648" y="120" width="3" height="106" fill="#000066"/>
<rect x="650" y="126" width="3" height="70" fill="#ccffcc"/>
<rect x="650" y="147" width="3" height="34" fill="#000066"/>
<rect x="652" y="126" width="3" height="70" fill="#ccffcc"/>
<rect x="652" y="156" width="3" height="34" fill="#000066"/>
<rect x="654" y="129" width="3" height="70" fill="#ccffcc"/>
<rect x="654" y="129" width="3" height="73" fill="#000066"/>
<rect x="656" y="129" width="3" height="70" fill="#ccffcc"/>
<rect x="656" y="117" width="3" height="94" fill="#000066"/>
<rect x="658" y="129" width="3" height="70" fill="#ccffcc"/>
<rect x="658" y="162" width="3" height="22" fill="#000066"/>
<rect x="660" y="132" width="3" height="70" fill="#ccffcc"/>
<rect x="660" y="120" width="3" height="67" fill="#000066"/>
<rect x="662" y="132" width="3" height="70" fill="#ccffcc"/>
<rect x="662" y="102" width="3" height="46" fill="#000066"/>
<rect x="664" y="132" width="3" height="70" fill="#ccffcc"/>
<rect x="664" y="99" width="3" height="82" fill="#000066"/>
<rect x="666" y="135" width="3" height="67" fill="#ccffcc"/>
<rect x="666" y="135" width="3" height="67" fill="#000066"/>
<rect x="668" y="135" width="3" height="70" fill="#ccffcc"/>
<rect x="668" y="93" width="3" height="106" fill="#000066"/>
<rect x="670" y="135" width="3" height="70" fill="#ccffcc"/>
<rect x="670" y="96" width="3" height="64" fill="#000066"/>
<rect x="672" y="138" width="3" height="67" fill="#ccffcc"/>
<rect x="672" y="96" width="3" height="70" fill="#000066"/>
<rect x="674" y="138" width="3" height="70" fill="#ccffcc"/>
<rect x="674" y="102" width="3" height="73" fill="#000066"/>
<rect x="676" y="138" width="3" height="70" fill="#ccffcc"/>
<rect x="676" y="105" width="3" height="73" fill="#000066"/>
<rect x="678" y="141" width="3" height="67" fill="#ccffcc"/>
<rect x="678" y="105" width="3" height="115" fill="#000066"/>
<rect x="680" y="141" width="3" height="67" fill="#ccffcc"/>
<rect x="680" y="183" width="3" height="52" fill="#000066"/>
<rect x="682" y="141" width="3" height="70" fill="#ccffcc"/>
<rect x="682" y="180" width="3" height="76" fill="#000066"/>
<rect x="684" y="144" width="3" height="67" fill="#ccffcc"/>
<rect x="684" y="192" width="3" height="31" fill="#000066"/>
<rect x="686" y="144" width="3" height="67" fill="#ccffcc"/>
<rect x="686" y="198" width="3" height="40" fill="#000066"/>
<rect x="688" y="144" width="3" height="67" fill="#ccffcc"/>
<rect x="688" y="183" width="3" height="61" fill="#000066"/>
<rect x="690" y="147" width="3" height="64" fill="#ccffcc"/>
<rect x="690" y="177" width="3" height="76" fill="#000066"/>
<rect x="692" y="147" width="3" height="67" fill="#ccffcc"/>
<rect x="692" y="177" width="3" height="55" fill="#000066"/>
<rect x="694" y="147" width="3" height="67" fill="#ccffcc"/>
<rect x="694" y="207" width="3" height="25" fill="#000066"/>
<rect x="696" y="147" width="3" height="67" fill="#ccffcc"/>
<rect x="696" y="189" width="3" height="55" fill="#000066"/>
<rect x="698" y="150" width="3" height="67" fill="#ccffcc"/>
<rect x="698" y="219" width="3" height="7" fill="#000066"/>
<rect x="700" y="150" width="3" height="67" fill="#ccffcc"/>
<rect x="700" y="165" width="3" height="61" fill="#000066"/>
<rect x="702" y="150" width="3" height="67" fill="#ccffcc"/>
<rect x="702" y="135" width="3" height="88" fill="#000066"/>
<rect x="704" y="150" width="3" height="67" fill="#ccffcc"/>
<rect x="704" y="138" width="3" height="37" fill="#000066"/>
<rect x="706" y="150" width="3" height="67" fill="#ccffcc"/>
<rect x="706" y="174" width="3" height="10" fill="#000066"/>
<rect x="708" y="153" width="3" height="64" fill="#ccffcc"/>
<rect x="708" y="156" width="3" height="61" fill="#000066"/>
<rect x="710" y="153" width="3" height="67" fill="#ccffcc"/>
<rect x="710" y="138" width="3" height="79" fill="#000066"/>
<rect x="712" y="153" width="3" height="67" fill="#ccffcc"/>
<rect x="712" y="129" width="3" height="100" fill="#000066"/>
<rect x="714" y="153" width="3" height="67" fill="#ccffcc"/>
<rect x="714" y="105" width="3" height="64" fill="#000066"/>
<rect x="716" y="156" width="3" height="64" fill="#ccffcc"/>
<rect x="716" y="144" width="3" height="79" fill="#000066"/>
<rect x="718" y="156" width="3" height="64" fill="#ccffcc"/>
<rect x="718" y="174" width="3" height="70" fill="#000066"/>
<rect x="720" y="156" width="3" height="67" fill="#ccffcc"/>
<rect x="720" y="120" width="3" height="73" fill="#000066"/>
<rect x="722" y="156" width="3" height="67" fill="#ccffcc"/>
<rect x="722" y="126" width="3" height="55" fill="#000066"/>
<rect x="724" y="156" width="3" height="67" fill="#ccffcc"/>
<rect x="724" y="156" width="3" height="43" fill="#000066"/>
<rect x="726" y="159" width="3" height="64" fill="#ccffcc"/>
<rect x="726" y="114" width="3" height="49" fill="#000066"/>
<rect x="728" y="159" width="3" height="64" fill="#ccffcc"/>
<rect x="728" y="111" width="3" height="49" fill="#000066"/>
<rect x="730" y="159" width="3" height="64" fill="#ccffcc"/>
<rect x="730" y="111" width="3" height="49" fill="#000066"/>
<rect x="732" y="159" width="3" height="67" fill="#ccffcc"/>
<rect x="732" y="111" width="3" height="58" fill="#000066"/>
<rect x="734" y="159" width="3" height="67" fill="#ccffcc"/>
<rect x="734" y="111" width="3" height="61" fill="#000066"/>
<rect x="736" y="162" width="3" height="64" fill="#ccffcc"/>
<rect x="736" y="114" width="3" height="40" fill="#000066"/>
<rect x="738" y="162" width="3" height="64" fill="#ccffcc"/>
<rect x="738" y="141" width="3" height="28" fill="#000066"/>
<rect x="740" y="162" width="3" height="64" fill="#ccffcc"/>
<rect x="740" y="150" width="3" height="25" fill="#000066"/>
<rect x="742" y="162" width="3" height="64" fill="#ccffcc"/>
<rect x="742" y="117" width="3" height="67" fill="#000066"/>
<rect x="744" y="162" width="3" height="64" fill="#ccffcc"/>
<rect x="744" y="153" width="3" height="76" fill="#000066"/>
<rect x="746" y="165" width="3" height="61" fill="#ccffcc"/>
<rect x="746" y="168" width="3" height="85" fill="#000066"/>
<rect x="748" y="165" width="3" height="64" fill="#ccffcc"/>
<rect x="748" y="159" width="3" height="82" fill="#000066"/>
<rect x="750" y="165" width="3" height="64" fill="#ccffcc"/>
<rect x="750" y="186" width="3" height="73" fill="#000066"/>
<rect x="752" y="165" width="3" height="64" fill="#ccffcc"/>
<rect x="752" y="189" width="3" height="85" fill="#000066"/>
<rect x="754" y="165" width="3" height="64" fill="#ccffcc"/>
<rect x="754" y="207" width="3" height="22" fill="#000066"/>
<rect x="756" y="168" width="3" height="61" fill="#ccffcc"/>
<rect x="756" y="183" width="3" height="40" fill="#000066"/>
<rect x="758" y="168" width="3" height="61" fill="#ccffcc"/>
<rect x="758" y="192" width="3" height="58" fill="#000066"/>
<rect x="760" y="168" width="3" height="61" fill="#ccffcc"/>
<rect x="760" y="186" width="3" height="115" fill="#000066"/>
<rect x="762" y="168" width="3" height="64" fill="#ccffcc"/>
<rect x="762" y="264" width="3" height="52" fill="#000066"/>
<rect x="764" y="168" width="3" height="64" fill="#ccffcc"/>
<rect x="764" y="234" width="3" height="61" fill="#000066"/>
<rect x="766" y="168" width="3" height="64" fill="#ccffcc"/>
<rect x="766" y="207" width="3" height="88" fill="#000066"/>
<rect x="768" y="168" width="3" height="64" fill="#ccffcc"/>
<rect x="768" y="174" width="3" height="109" fill="#000066"/>
<rect x="770" y="168" width="3" height="64" fill="#ccffcc"/>
<rect x="770" y="186" width="3" height="79" fill="#000066"/>
<rect x="772" y="171" width="3" height="61" fill="#ccffcc"/>
<rect x="772" y="126" width="3" height="133" fill="#000066"/>
<rect x="774" y="171" width="3" height="61" fill="#ccffcc"/>
<rect x="774" y="117" width="3" height="67" fill="#000066"/>
<rect x="776" y="171" width="3" height="61" fill="#ccffcc"/>
<rect x="776" y="153" width="3" height="46" fill="#000066"/>
<rect x="778" y="171" width="3" height="61" fill="#ccffcc"/>
<rect x="778" y="126" width="3" height="91" fill="#000066"/>
</g>
<polygon shape-rendering="crispEdges" fill="#adad52" points="50,580 50,579 52,579 52,578 54,578 54,578 56,578 56,577 58,577 58,577 60,577 60,576 62,576 62,575 64,575 64,575 66,575 66,574 68,574 68,574 70,574 70,573 72,573 72,573 74,573 74,572 76,572 76,572 78,572 78,571 80,571 80,571 82,571 82,570 84,570 84,570 86,570 86,569 88,569 88,569 90,569 90,568 92,568 92,568 94,568 94,567 96,567 96,567 98,567 98,566 100,566 100,566 102,566 102,565 104,565 104,565 106,565 106,564 108,564 108,564 110,564 110,563 112,563 112,563 114,563 114,562 116,562 116,562 118,562 118,562 120,562 120,561 122,561 122,561 124,561 124,560 126,560 126,560 128,560 128,560 130,560 130,559 132,559 132,559 134,559 134,558 136,558 136,558 138,558 138,558 140,558 140,557 142,557 142,557 144,557 144,556 146,556 146,556 148,556 148,556 150,556 150,555 152,555 152,555 154,555 154,554 156,554 156,554 158,554 158,553 160,553 160,553 162,553 162,552 164,552 164,551 166,551 166,551 168,551 168,550 170,550 170,550 172,550 172,549 174,549 174,549 176,549 176,548 178,548 178,548 180,548 180,547 182,547 182,547 184,547 184,546 186,546 186,546 188,546 188,545 190,545 190,544 192,544 192,544 194,544 194,543 196,543 196,543 198,543 198,542 200,542 200,542 202,542 202,541 204,541 204,541 206,541 206,540 208,540 208,539 210,539 210,539 212,539 212,539 214,539 214,538 216,538 216,538 218,538 218,537 220,537 220,537 222,537 222,537 224,537 224,536 226,536 226,536 228,536 228,535 230,535 230,535 232,535 232,535 234,535 234,534 236,534 236,533 238,533 238,533 240,533 240,532 242,532 242,532 244,532 244,531 246,531 246,531 248,531 248,530 250,530 250,530 252,530 252,529 254,529 254,528 256,528 256,528 258,528 258,527 260,527 260,527 262,527 262,526 264,526 264,526 266,526 266,525 268,525 268,525 270,525 270,524 272,524 272,523 274,523 274,522 276,522 276,521 278,521 278,521 280,521 280,520 282,520 282,519 284,519 284,518 286,518 286,517 288,517 288,516 290,516 290,516 292,516 292,515 294,515 294,514 296,514 296,514 298,514 298,513 300,513 300,512 302,512 302,511 304,511 304,511 306,511 306,510 308,510 308,509 310,509 310,509 312,509 312,508 314,508 314,507 316,507 316,507 318,507 318,506 320,506 320,505 322,505 322,505 324,505 324,504 326,504 326,503 328,503 328,502 330,502 330,502 332,502 332,501 334,501 334,500 336,500 336,500 338,500 338,499 340,499 340,498 342,498 342,498 344,498 344,497 346,497 346,496 348,496 348,496 350,496 350,495 352,495 352,494 354,494 354,493 356,493 356,492 358,492 358,492 360,492 360,491 362,491 362,490 364,490 364,489 366,489 366,488 368,488 368,487 370,487 370,486 372,486 372,485 374,485 374,485 376,485 376,484 378,484 378,483 380,483 380,482 382,482 382,481 384,481 384,480 386,480 386,479 388,479 388,478 390,478 390,478 392,478 392,477 394,477 394,476 396,476 396,476 398,476 398,475 400,475 400,474 402,474 402,473 404,473 404,472 406,472 406,471 408,471 408,470 410,470 410,469 412,469 412,468 414,468 414,468 416,468 416,467 418,467 418,467 420,467 420,466 422,466 422,465 424,465 424,465 426,465 426,464 428,464 428,463 430,463 430,463 432,463 432,462 434,462 434,462 436,462 436,461 438,461 438,460 440,460 440,460 442,460 442,459 444,459 444,459 446,459 446,458 448,458 448,458 450,458 450,457 452,457 452,457 454,457 454,456 456,456 456,456 458,456 458,455 460,455 460,455 462,455 462,454 464,454 464,454 466,454 466,453 468,453 468,453 470,453 470,452 472,452 472,452 474,452 474,451 476,451 476,451 478,451 478,450 480,450 480,450 482,450 482,449 484,449 484,449 486,449 486,449 488,449 488,448 490,448 490,448 492,448 492,447 494,447 494,447 496,447 496,447 498,447 498,446 500,446 500,445 502,445 502,444 504,444 504,443 506,443 506,442 508,442 508,441 510,441 510,440 512,440 512,439 514,439 514,439 516,439 516,438 518,438 518,437 520,437 520,436 522,436 522,435 524,435 524,435 526,435 526,434 528,434 528,433 530,433 530,432 532,432 532,431 534,431 534,430 536,430 536,430 538,430 538,429 540,429 540,428 542,428 542,427 544,427 544,426 546,426 546,425 548,425 548,424 550,424 550,423 552,423 552,422 554,422 554,421 556,421 556,421 558,421 558,420 560,420 560,419 562,419 562,418 564,418 564,417 566,417 566,416 568,416 568,416 570,416 570,415 572,415 572,414 574,414 574,413 576,413 576,412 578,412 578,411 580,411 580,410 582,410 582,410 584,410 584,409 586,409 586,408 588,408 588,407 590,407 590,407 592,407 592,406 594,406 594,406 596,406 596,405 598,405 598,404 600,404 600,404 602,404 602,403 604,403 604,402 606,402 606,401 608,401 608,401 610,401 610,400 612,400 612,399 614,399 614,398 616,398 616,398 618,398 618,397 620,397 620,396 622,396 622,396 624,396 624,395 626,395 626,394 628,394 628,393 630,393 630,392 632,392 632,391 634,391 634,390 636,390 636,389 638,389 638,388 640,388 640,387 642,387 642,386 644,386 644,385 646,385 646,384 648,384 648,383 650,383 650,382 652,382 652,381 654,381 654,380 656,380 656,379 658,379 658,378 660,378 660,378 662,378 662,377 664,377 664,376 666,376 666,376 668,376 668,375 670,375 670,375 672,375 672,374 674,374 674,373 676,373 676,373 678,373 678,372 680,372 680,372 682,372 682,371 684,371 684,370 686,370 686,370 688,370 688,369 690,369 690,369 692,369 692,368 694,368 694,367 696,367 696,367 698,367 698,366 700,366 700,366 702,366 702,365 704,365 704,364 706,364 706,364 708,364 708,363 710,363 710,363 712,363 712,362 714,362 714,361 716,361 716,361 718,361 718,360 720,360 720,360 722,360 722,359 724,359 724,358 726,358 726,358 728,358 728,357 730,357 730,357 732,357 732,356 734,356 734,355 736,355 736,355 738,355 738,354 740,354 740,354 742,354 742,353 744,353 744,353 746,353 746,352 748,352 748,351 750,351 750,351 752,351 752,350 754,350 754,350 756,350 756,349 758,349 758,349 760,349 760,348 762,348 762,348 764,348 764,347 766,347 766,347 768,347 768,346 770,346 770,346 772,346 772,345 774,345 774,345 776,345 776,344 778,344 778,344 780,344 780,343 781,580"/>
<polygon shape-rendering="crispEdges" fill="#80ff80" points="50,580 50,580 64,580 64,577 86,577 86,576 96,576 96,574 110,574 110,568 116,568 116,567 134,567 134,565 142,565 142,564 158,564 158,563 163,563 163,562 182,562 182,560 194,560 194,557 209,557 209,551 226,551 226,548 254,548 254,547 278,547 278,537 298,537 298,533 332,533 332,525 370,525 370,524 392,524 392,523 457,523 457,523 470,523 470,521 492,521 492,518 503,518 503,517 510,517 510,512 516,512 516,509 520,509 520,498 532,498 532,492 534,492 534,486 538,486 538,476 629,476 629,474 643,474 643,474 649,474 649,470 659,470 659,468 677,468 677,465 693,465 693,464 698,464 698,461 704,461 704,457 709,457 709,453 738,453 738,447 742,447 742,442 753,442 753,441 773,441 773,439 781,439 781,580"/>
<g shape-rendering="crispEdges" stroke="#8c8c8c" stroke-width="1" stroke-dasharray="3,3" fill="none">
<line x1="51" y1="60.5" x2="780" y2="60.5" stroke-dashoffset="2"/>
<line x1="51" y1="90.5" x2="780" y2="90.5" stroke-dashoffset="3"/>
<line x1="51" y1="120.5" x2="780" y2="120.5" stroke-dashoffset="4"/>
<line x1="51" y1="150.5" x2="780" y2="150.5" stroke-dashoffset="5"/>
<line x1="51" y1="180.5" x2="780" y2="180.5" stroke-dashoffset="0"/>
<line x1="51" y1="210.5" x2="780" y2="210.5" stroke-dashoffset="1"/>
<line x1="51" y1="240.5" x2="780" y2="240.5" stroke-dashoffset="2"/>
<line x1="51" y1="270.5" x2="780" y2="270.5" stroke-dashoffset="3"/>
<line x1="51" y1="300.5" x2="780" y2="300.5" stroke-dashoffset="4"/>
<line x1="51" y1="357.5" x2="780" y2="357.5" stroke-dashoffset="0"/>
<line x1="51" y1="385.5" x2="780" y2="385.5" stroke-dashoffset="1"/>
<line x1="51" y1="413.5" x2="780" y2="413.5" stroke-dashoffset="2"/>
<line x1="51" y1="441.5" x2="780" y2="441.5" stroke-dashoffset="3"/>
<line x1="51" y1="468.5" x2="780" y2="468.5" stroke-dashoffset="4"/>
<line x1="51" y1="496.5" x2="780" y2="496.5" stroke-dashoffset="5"/>
<line x1="51" y1="524.5" x2="780" y2="524.5" stroke-dashoffset="0"/>
<line x1="51" y1="552.5" x2="780" y2="552.5" stroke-dashoffset="1"/>
<line x1="112.5" y1="31" x2="112.5" y2="580" stroke-dashoffset="0"/>
<line x1="168.5" y1="31" x2="168.5" y2="580" stroke-dashoffset="5"/>
<line x1="230.5" y1="31" x2="230.5" y2="580" stroke-dashoffset="4"/>
<line x1="290.5" y1="31" x2="290.5" y2="580" stroke-dashoffset="3"/>
<line x1="352.5" y1="31" x2="352.5" y2="580" stroke-dashoffset="2"/>
<line x1="412.5" y1="31" x2="412.5" y2="580" stroke-dashoffset="1"/>
<line x1="475.5" y1="31" x2="475.5" y2="580" stroke-dashoffset="0"/>
<line x1="537.5" y1="31" x2="537.5" y2="580" stroke-dashoffset="5"/>
<line x1="597.5" y1="31" x2="597.5" y2="580" stroke-dashoffset="4"/>
<line x1="659.5" y1="31" x2="659.5" y2="580" stroke-dashoffset="3"/>
<line x1="719.5" y1="31" x2="719.5" y2="580" stroke-dashoffset="2"/>
</g>
<g shape-rendering="crispEdges" fill="#000">
<rect x="50" y="30" width="731" height="1"/>
<rect x="50" y="330" width="731" height="1"/>
<rect x="50" y="580" width="731" height="1"/>
<rect x="50" y="30" width="1" height="551"/>
<rect x="780" y="30" width="1" height="551"/>
</g>
<text x="248" y="25" font-size="18.7px" text-anchor="start" textLength="334.5" lengthAdjust="spacingAndGlyphs">HOUSTON/D.W._HOOKS, TX - 2022</text>
<text x="29.6" y="336" font-size="12px" text-anchor="start" textLength="14.2" lengthAdjust="spacingAndGlyphs">10</text>
<text x="785.2" y="336" font-size="12px" text-anchor="start" textLength="14.2" lengthAdjust="spacingAndGlyphs">10</text>
<text x="29.6" y="306" font-size="12px" text-anchor="start" textLength="14.2" lengthAdjust="spacingAndGlyphs">20</text>
<text x="785.2" y="306" font-size="12px" text-anchor="start" textLength="14.2" lengthAdjust="spacingAndGlyphs">20</text>
<text x="29.6" y="276" font-size="12px" text-anchor="start" textLength="14.2" lengthAdjust="spacingAndGlyphs">30</text>
<text x="785.2" y="276" font-size="12px" text-anchor="start" textLength="14.2" lengthAdjust="spacingAndGlyphs">30</text>
<text x="29.6" y="246" font-size="12px" text-anchor="start" textLength="14.2" lengthAdjust="spacingAndGlyphs">40</text>
<text x="785.2" y="246" font-size="12px" text-anchor="start" textLength="14.2" lengthAdjust="spacingAndGlyphs">40</text>
<text x="29.6" y="216" font-size="12px" text-anchor="start" textLength="14.2" lengthAdjust="spacingAndGlyphs">50</text>
<text x="785.2" y="216" font-size="12px" text-anchor="start" textLength="14.2" lengthAdjust="spacingAndGlyphs">50</text>
<text x="29.6" y="186" font-size="12px" text-anchor="start" textLength="14.2" lengthAdjust="spacingAndGlyphs">60</text>
<text x="785.2" y="186" font-size="12px" text-anchor="start" textLength="14.2" lengthAdjust="spacingAndGlyphs">60</text>
<text x="29.6" y="156" font-size="12px" text-anchor="start" textLength="14.2" lengthAdjust="spacingAndGlyphs">70</text>
<text x="785.2" y="156" font-size="12px" text-anchor="start" textLength="14.2" lengthAdjust="spacingAndGlyphs">70</text>
<text x="29.6" y="126" font-size="12px" text-anchor="start" textLength="14.2" lengthAdjust="spacingAndGlyphs">80</text>
<text x="785.2" y="126" font-size="12px" text-anchor="start" textLength="14.2" lengthAdjust="spacingAndGlyphs">80</text>
<text x="29.6" y="96" font-size="12px" text-anchor="start" textLength="14.2" lengthAdjust="spacingAndGlyphs">90</text>
<text x="785.2" y="96" font-size="12px" text-anchor="start" textLength="14.2" lengthAdjust="spacingAndGlyphs">90</text>
<text x="21.6" y="66" font-size="12px" text-anchor="start" textLength="22.2" lengthAdjust="spacingAndGlyphs">100</text>
<text x="785.2" y="66" font-size="12px" text-anchor="start" textLength="22.2" lengthAdjust="spacingAndGlyphs">100</text>
<text x="36.8" y="558" font-size="12px" text-anchor="start" textLength="7" lengthAdjust="spacingAndGlyphs">6</text>
<text x="785.2" y="558" font-size="12px" text-anchor="start" textLength="7" lengthAdjust="spacingAndGlyphs">6</text>
<text x="29.6" y="530" font-size="12px" text-anchor="start" textLength="14.2" lengthAdjust="spacingAndGlyphs">12</text>
<text x="785.2" y="530" font-size="12px" text-anchor="start" textLength="14.2" lengthAdjust="spacingAndGlyphs">12</text>
<text x="29.6" y="502" font-size="12px" text-anchor="start" textLength="14.2" lengthAdjust="spacingAndGlyphs">18</text>
<text x="785.2" y="502" font-size="12px" text-anchor="start" textLength="14.2" lengthAdjust="spacingAndGlyphs">18</text>
<text x="29.6" y="474" font-size="12px" text-anchor="start" textLength="14.2" lengthAdjust="spacingAndGlyphs">24</text>
<text x="785.2" y="474" font-size="12px" text-anchor="start" textLength="14.2" lengthAdjust="spacingAndGlyphs">24</text>
<text x="29.6" y="447" font-size="12px" text-anchor="start" textLength="14.2" lengthAdjust="spacingAndGlyphs">30</text>
<text x="785.2" y="447" font-size="12px" text-anchor="start" textLength="14.2" lengthAdjust="spacingAndGlyphs">30</text>
<text x="29.6" y="419" font-size="12px" text-anchor="start" textLength="14.2" lengthAdjust="spacingAndGlyphs">36</text>
<text x="785.2" y="419" font-size="12px" text-anchor="start" textLength="14.2" lengthAdjust="spacingAndGlyphs">36</text>
<text x="29.6" y="391" font-size="12px" text-anchor="start" textLength="14.2" lengthAdjust="spacingAndGlyphs">42</text>
<text x="785.2" y="391" font-size="12px" text-anchor="start" textLength="14.2" lengthAdjust="spacingAndGlyphs">42</text>
<text x="29.6" y="363" font-size="12px" text-anchor="start" textLength="14.2" lengthAdjust="spacingAndGlyphs">48</text>
<text x="785.2" y="363" font-size="12px" text-anchor="start" textLength="14.2" lengthAdjust="spacingAndGlyphs">48</text>
<text x="49.3" y="592.5" font-size="13.3px" text-anchor="start" textLength="24.9" lengthAdjust="spacingAndGlyphs">Jan</text>
<text x="111.9" y="592.5" font-size="13.3px" text-anchor="start" textLength="25.6" lengthAdjust="spacingAndGlyphs">Feb</text>
<text x="167.9" y="592.5" font-size="13.3px" text-anchor="start" textLength="27.6" lengthAdjust="spacingAndGlyphs">Mar</text>
<text x="229.9" y="592.5" font-size="13.3px" text-anchor="start" textLength="25.1" lengthAdjust="spacingAndGlyphs">Apr</text>
<text x="290.3" y="592.5" font-size="13.3px" text-anchor="start" textLength="29.6" lengthAdjust="spacingAndGlyphs">May</text>
<text x="351.6" y="592.5" font-size="13.3px" text-anchor="start" textLength="25.1" lengthAdjust="spacingAndGlyphs">Jun</text>
<text x="411.5" y="592.5" font-size="13.3px" text-anchor="start" textLength="20.9" lengthAdjust="spacingAndGlyphs">Jul</text>
<text x="474.5" y="592.5" font-size="13.3px" text-anchor="start" textLength="29.1" lengthAdjust="spacingAndGlyphs">Aug</text>
<text x="536.8" y="592.5" font-size="13.3px" text-anchor="start" textLength="27.6" lengthAdjust="spacingAndGlyphs">Sep</text>
<text x="596.8" y="592.5" font-size="13.3px" text-anchor="start" textLength="25.1" lengthAdjust="spacingAndGlyphs">Oct</text>
<text x="658.6" y="592.5" font-size="13.3px" text-anchor="start" textLength="28.6" lengthAdjust="spacingAndGlyphs">Nov</text>
<text x="719.1" y="592.5" font-size="13.3px" text-anchor="start" textLength="27.1" lengthAdjust="spacingAndGlyphs">Dec</text>
<text transform="translate(21,264.5) rotate(-90)" font-size="16px" textLength="167" lengthAdjust="spacingAndGlyphs">Temperature (Deg F)</text>
<text transform="translate(21,542.6) rotate(-90)" font-size="16px" textLength="173.5" lengthAdjust="spacingAndGlyphs">Precipitation (Inches)</text>
<text x="720.6" y="435.6" font-size="16px" text-anchor="start" textLength="44.3" lengthAdjust="spacingAndGlyphs">30.47</text>
<rect shape-rendering="crispEdges" x="50" y="605" width="41" height="6" fill="#ccccff"/>
<text x="92.6" y="609.6" font-size="12px" text-anchor="start" textLength="74.5" lengthAdjust="spacingAndGlyphs">Record Min</text>
<rect shape-rendering="crispEdges" x="200" y="605" width="41" height="6" fill="#ffcccc"/>
<text x="242.6" y="609.6" font-size="12px" text-anchor="start" textLength="79" lengthAdjust="spacingAndGlyphs">Record Max</text>
<rect shape-rendering="crispEdges" x="350" y="605" width="41" height="6" fill="#ccffcc"/>
<text x="392.6" y="609.6" font-size="12px" text-anchor="start" textLength="47.5" lengthAdjust="spacingAndGlyphs">Normal</text>
<rect shape-rendering="crispEdges" x="490" y="605" width="41" height="6" fill="#adad52"/>
<text x="532.6" y="609.6" font-size="12px" text-anchor="start" textLength="93.5" lengthAdjust="spacingAndGlyphs">Below Normal</text>
<rect shape-rendering="crispEdges" x="650" y="605" width="41" height="6" fill="#006400"/>
<text x="692.6" y="609.6" font-size="12px" text-anchor="start" textLength="95.5" lengthAdjust="spacingAndGlyphs">Above Normal</text>
</svg></body></html>
